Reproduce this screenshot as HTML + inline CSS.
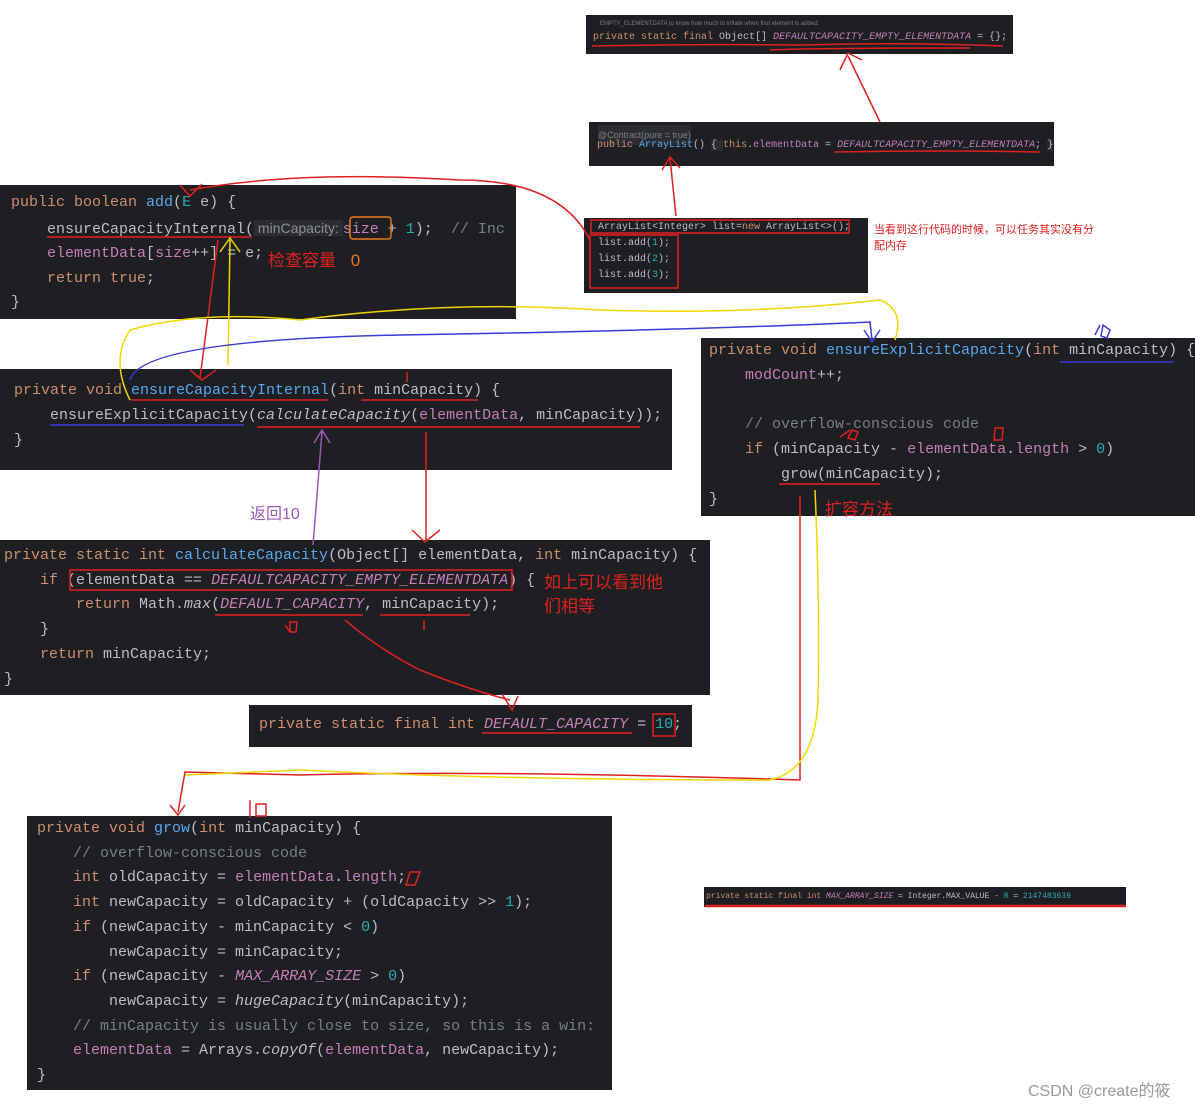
<!DOCTYPE html>
<html><head><meta charset="utf-8">
<style>
body{margin:0;width:1195px;height:1105px;background:#fff;position:relative;overflow:hidden;font-family:"Liberation Mono",monospace;}
.b{position:absolute;background:#1e1f22;}
.l{position:absolute;white-space:pre;font-size:15px;color:#bcbec4;line-height:20px;}
.k{color:#cf8e6d}.f{color:#56a8f5}.p{color:#c77dbb}.n{color:#2aacb8}.c{color:#7a7e85}.i{font-style:italic}
.cn{position:absolute;font-family:"Liberation Sans","Noto Sans CJK SC",sans-serif;color:#e02020;white-space:nowrap}
.s{font-size:10px;line-height:14px}
svg{position:absolute;left:0;top:0}
</style></head><body>
<div class="b" style="left:586px;top:15px;width:427px;height:39px"></div>
<div class="l c" style="left:600px;top:14px;font-size:6px;font-family:'Liberation Sans',sans-serif">EMPTY_ELEMENTDATA to know how much to inflate when first element is added.</div>
<div class="l s" style="left:593px;top:31px"><span class="k">private static final </span>Object[] <span class="p i">DEFAULTCAPACITY_EMPTY_ELEMENTDATA</span> = {};</div>

<div class="b" style="left:589px;top:122px;width:465px;height:44px"></div>
<div class="l c" style="left:598px;top:125px;font-size:9px;font-family:'Liberation Sans',sans-serif;background:#2b2d30">@Contract(pure = true)</div>
<div class="l s" style="left:597px;top:139px"><span class="k">public </span><span class="f">ArrayList</span>() <span style="background:#2b2d30">{ </span><span class="k">this</span>.<span class="p">elementData</span> = <span class="p i">DEFAULTCAPACITY_EMPTY_ELEMENTDATA</span>; <span style="background:#2b2d30">}</span></div>

<div class="b" style="left:584px;top:218px;width:284px;height:75px"></div>
<div class="l s" style="left:598px;top:220px;line-height:16px">ArrayList&lt;Integer&gt; list=<span class="k">new</span> ArrayList&lt;&gt;();
list.add(<span class="n">1</span>);
list.add(<span class="n">2</span>);
list.add(<span class="n">3</span>);</div>
<div class="cn" style="left:874px;top:222px;font-size:11px;line-height:16px">当看到这行代码的时候，可以任务其实没有分<br>配内存</div>

<div class="b" style="left:0;top:185px;width:516px;height:134px"></div>
<div class="l" style="left:11px;top:191px;line-height:24.5px"><span class="k">public boolean </span><span class="f">add</span>(<span class="n">E</span> e) {
    ensureCapacityInternal(<span style="font-family:'Liberation Sans',sans-serif;font-size:14px;color:#8c8f94;background:#2b2d30"> minCapacity: </span><span class="p">size</span> + <span class="n">1</span>);  <span class="c">// Inc</span>
    <span class="p">elementData</span>[<span class="p">size</span>++] = e;
    <span class="k">return true</span>;
}</div>
<div class="cn" style="left:268px;top:246px;font-size:17px">检查容量 <span style="color:#e87a20;margin-left:10px">0</span></div>

<div class="b" style="left:0;top:369px;width:672px;height:101px"></div>
<div class="l" style="left:14px;top:378px;line-height:25px"><span class="k">private void </span><span class="f">ensureCapacityInternal</span>(<span class="k">int </span>minCapacity) {
    ensureExplicitCapacity(<span class="i">calculateCapacity</span>(<span class="p">elementData</span>, minCapacity));
}</div>

<div class="b" style="left:701px;top:338px;width:494px;height:178px"></div>
<div class="l" style="left:709px;top:339px;line-height:24.8px"><span class="k">private void </span><span class="f">ensureExplicitCapacity</span>(<span class="k">int </span>minCapacity) {
    <span class="p">modCount</span>++;

    <span class="c">// overflow-conscious code</span>
    <span class="k">if </span>(minCapacity - <span class="p">elementData</span>.<span class="p">length</span> &gt; <span class="n">0</span>)
        grow(minCapacity);
}</div>
<div class="cn" style="left:825px;top:495px;font-size:17px">扩容方法</div>

<div class="b" style="left:0;top:540px;width:710px;height:155px"></div>
<div class="l" style="left:4px;top:544px;line-height:24.7px"><span class="k">private static int </span><span class="f">calculateCapacity</span>(Object[] elementData, <span class="k">int </span>minCapacity) {
    <span class="k">if </span>(elementData == <span class="p i">DEFAULTCAPACITY_EMPTY_ELEMENTDATA</span>) {
        <span class="k">return </span>Math.<span class="i">max</span>(<span class="p i">DEFAULT_CAPACITY</span>, minCapacity);
    }
    <span class="k">return </span>minCapacity;
}</div>
<div class="cn" style="left:544px;top:571px;font-size:17px;line-height:24px">如上可以看到他<br>们相等</div>
<div class="cn" style="left:250px;top:500px;font-size:16px;color:#9b59b6">返回10</div>

<div class="b" style="left:249px;top:705px;width:443px;height:42px"></div>
<div class="l" style="left:259px;top:715px"><span class="k">private static final int </span><span class="p i">DEFAULT_CAPACITY</span> = <span class="n">10</span>;</div>

<div class="b" style="left:27px;top:816px;width:585px;height:274px"></div>
<div class="l" style="left:37px;top:817px;line-height:24.7px"><span class="k">private void </span><span class="f">grow</span>(<span class="k">int </span>minCapacity) {
    <span class="c">// overflow-conscious code</span>
    <span class="k">int </span>oldCapacity = <span class="p">elementData</span>.<span class="p">length</span>;
    <span class="k">int </span>newCapacity = oldCapacity + (oldCapacity &gt;&gt; <span class="n">1</span>);
    <span class="k">if </span>(newCapacity - minCapacity &lt; <span class="n">0</span>)
        newCapacity = minCapacity;
    <span class="k">if </span>(newCapacity - <span class="p i">MAX_ARRAY_SIZE</span> &gt; <span class="n">0</span>)
        newCapacity = <span class="i">hugeCapacity</span>(minCapacity);
    <span class="c">// minCapacity is usually close to size, so this is a win:</span>
    <span class="p">elementData</span> = Arrays.<span class="i">copyOf</span>(<span class="p">elementData</span>, newCapacity);
}</div>

<div class="b" style="left:704px;top:887px;width:422px;height:20px"></div>
<div class="l" style="left:706px;top:890px;font-size:8px;line-height:14px"><span class="k">private static final int </span><span class="p i">MAX_ARRAY_SIZE</span> = Integer.MAX_VALUE - <span class="n">8</span> = <span class="n">2147483639</span></div>

<div class="cn" style="left:1028px;top:1077px;font-size:16px;color:#999">CSDN @create的筱</div>

<svg width="1195" height="1105" fill="none" stroke-width="1.5">
<g stroke="#e02020">
<path d="M592 46 Q700 44 800 45 Q900 42 1003 46"/>
<path d="M770 50 Q820 48 970 48"/>
<path d="M880 122 L848 56 M840 70 L848 53 L862 60"/>
<path d="M834 152 Q940 150 1040 152"/>
<path d="M676 216 L670 158 M662 170 L670 157 L680 168"/>
<rect x="591" y="220" width="258" height="13"/>
<rect x="590" y="235" width="88" height="53"/>
<path d="M590 240 Q560 180 460 180 Q300 170 190 190 M180 185 L190 196 L202 184"/>
<path d="M47 237 L252 237"/>
<rect x="350" y="217" width="41" height="22" stroke="#e87a20" rx="3"/>
<path d="M218 240 L200 378 M190 370 L202 380 L216 370"/>
<path d="M131 400 L328 400 M361 400 L478 400 M257 427 L640 427"/>
<path d="M426 432 L426 540 M412 530 L425 542 L440 530"/>
<rect x="70" y="570" width="442" height="20"/>
<path d="M215 615 L363 615 M380 615 L470 615"/>
<path d="M345 620 Q380 650 420 670 Q470 690 510 700 M502 694 L512 710 L518 696"/>
<path d="M482 733 L632 733"/>
<rect x="653" y="714" width="22" height="22"/>
<path d="M779 484 L880 484"/>
<path d="M800 496 L800 780 Q500 770 300 775 L185 772 L178 812 M170 805 L178 815 L185 805"/>
<path d="M705 906 L1126 906" stroke-width="2.5"/>
<path d="M285 625 L290 632 M290 622 L297 622 L296 632 L290 632Z M424 620 L424 630"/>
<path d="M840 437 L850 430 M852 430 L858 432 L855 440 L848 438 Z M995 428 L1003 428 L1002 440 L994 440 Z"/>
<path d="M407 372 L407 382"/>
<path d="M250 800 L250 818 M256 804 L266 804 L266 816 L256 816 Z"/>
<path d="M410 872 L420 872 L415 885 L406 885 Z"/>
</g>
<g stroke="#f2d600">
<path d="M228 365 L230 240 M220 252 L230 238 L240 252"/>
<path d="M130 400 Q110 360 130 330 Q200 310 300 320 Q450 300 600 310 Q750 315 880 300 Q905 310 895 340"/>
<path d="M815 490 Q820 600 818 700 Q815 770 770 780 Q500 780 300 770 L185 775"/>
</g>
<g stroke="#3a3ad8">
<path d="M130 380 Q140 340 400 335 Q700 330 870 322 L872 340 M864 330 L872 342 L880 330"/>
<path d="M50 425 L244 425 M1060 362 L1174 362"/>
<path d="M1095 335 L1100 325 M1103 325 L1110 330 L1107 338 L1101 336 Z"/>
</g>
<g stroke="#9b59b6">
<path d="M313 545 L322 432 M314 443 L322 430 L330 443"/>
</g>
</svg>
</body></html>
